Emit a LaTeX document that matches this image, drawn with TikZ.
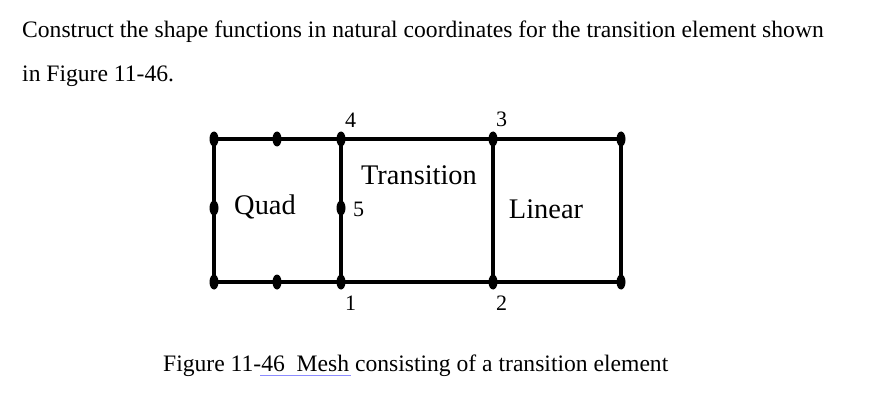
\documentclass[tikz,border=0pt]{standalone}
\usepackage{fontspec}
\usetikzlibrary{shapes.geometric}
\setmainfont{Liberation Serif}
\begin{document}
\begin{tikzpicture}[x=1pt,y=-1pt,
  edge/.style={line width=3.2pt},
  dot/.style={fill=black,ellipse,minimum width=9pt,minimum height=15pt,inner sep=0pt},
  txt/.style={font=\fontsize{23.6}{28}\selectfont,anchor=base west,inner sep=0pt},
  lab/.style={font=\fontsize{28.4}{32}\selectfont,inner sep=0pt},
  num/.style={font=\fontsize{22}{26}\selectfont,inner sep=0pt}]
\useasboundingbox (0,0) rectangle (875,409);
\fill[white] (0,0) rectangle (875,409);
\node[txt] (t1) at (22,38) {Construct the shape functions in natural coordinates for the transition element shown};
\node[txt] (t2) at (22,82) {in Figure 11-46.};
\coordinate (a1) at (214,139); \coordinate (a2) at (277,139); \coordinate (a3) at (341,139);
\coordinate (a4) at (493,139); \coordinate (a5) at (621,139);
\coordinate (b1) at (214,282); \coordinate (b2) at (277,282); \coordinate (b3) at (341,282);
\coordinate (b4) at (493,282); \coordinate (b5) at (621,282);
\coordinate (m1) at (214,208); \coordinate (m3) at (341,208);
\draw[edge] (a1) -- (a5) -- (b5) -- (b1) -- cycle;
\draw[edge] (a3) -- (b3);
\draw[edge] (a4) -- (b4);
\foreach \p in {a1,a2,a3,a4,a5,b1,b2,b3,b4,b5,m1,m3}
  \node[dot] at (\p) {};
\node[num,anchor=south west] (n4) at (345,128) {4};
\node[num,anchor=south west] (n3) at (496,127) {3};
\node[num,anchor=west] (n5) at (353,209) {5};
\node[num,anchor=north west] (n1) at (345,296) {1};
\node[num,anchor=north west] (n2) at (496,296) {2};
\node[lab] (q) at (265,207) {Quad};
\node[lab] (tr) at (419,175) {Transition};
\node[lab] (li) at (546,209) {Linear};
\node[txt] (cap) at (163,371) {Figure 11-46\ \ Mesh consisting of a transition element};
\draw[blue!45,line width=1pt] ([xshift=97pt,yshift=-4pt]cap.base west) -- ([xshift=188pt,yshift=-4pt]cap.base west);
\end{tikzpicture}
\end{document}
